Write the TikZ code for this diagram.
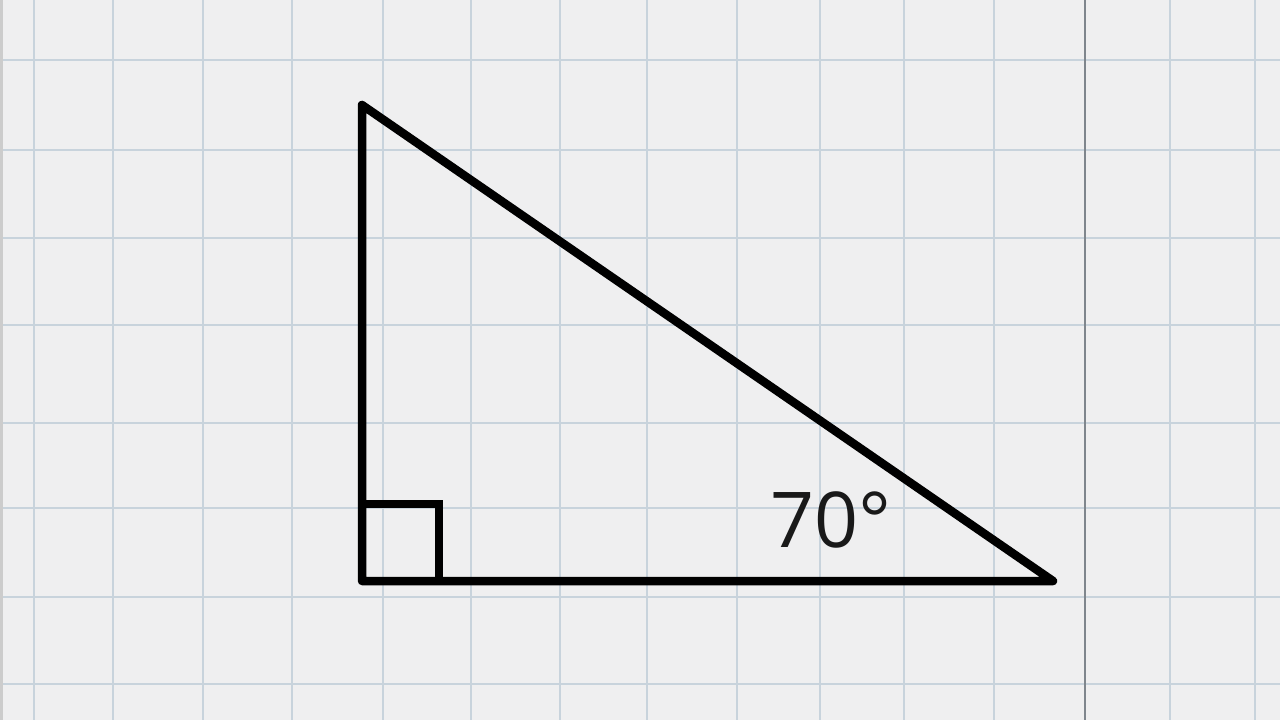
\documentclass[tikz,border=0pt]{standalone}
\usepackage{fontspec}
\setmainfont{Open Sans}
\definecolor{paper}{HTML}{EFEFF0}
\definecolor{gridc}{HTML}{C8D3DC}
\definecolor{margin}{HTML}{7F868D}
\tikzset{
  gridline/.style={draw=gridc, line width=2.6pt},
  marginline/.style={draw=margin, line width=2pt},
  edge/.style={draw=black, line width=8.5pt, line join=round, line cap=round},
  anglelabel/.style={font=\fontsize{77}{80}\selectfont, text=black!90, inner sep=0pt}
}
\begin{document}
\begin{tikzpicture}[x=1pt,y=-1pt]
\fill[paper] (0,0) rectangle (1280,720);
\useasboundingbox (0,0) rectangle (1280,720);
% grid
\foreach \gx in {34,113,203,292,383,471,560,647,737,820,904,994,1170,1255}
  \draw[gridline] (\gx,0) -- (\gx,720);
\foreach \gy in {60,150,238,325,423,508,597,684}
  \draw[gridline] (0,\gy) -- (1280,\gy);
\draw[marginline] (1084.5,0) -- (1084.5,720);
\draw[draw=gray!40, line width=3pt] (1.5,0) -- (1.5,720);
% triangle
\coordinate (A) at (362,105);
\coordinate (B) at (362,581);
\coordinate (C) at (1053,581);
\draw[edge] (A) -- (B) -- (C) -- cycle;
% right angle marker
\coordinate (R1) at (362,504);
\coordinate (R2) at (439,504);
\coordinate (R3) at (439,581);
\draw[edge, line width=7.5pt, line cap=butt, line join=miter] (R1) -- (R2) -- (R3);
% label
\node[anglelabel] (lbl) at (831,520) {70°};
\end{tikzpicture}
\end{document}
